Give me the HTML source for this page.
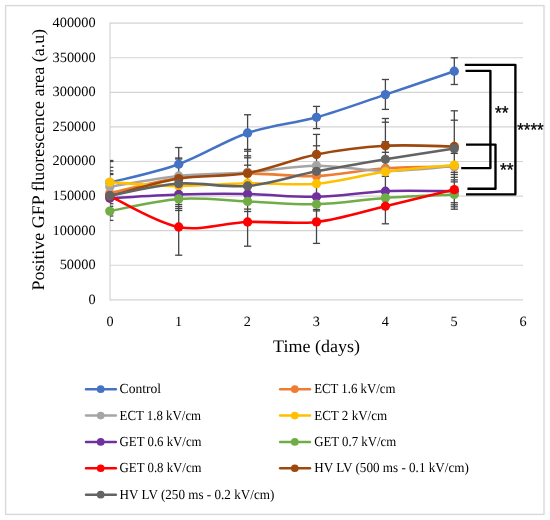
<!DOCTYPE html>
<html><head><meta charset="utf-8"><title>chart</title><style>html,body{margin:0;padding:0;background:#fff;width:550px;height:520px;overflow:hidden}</style></head><body>
<svg width="550" height="520" viewBox="0 0 550 520" style="display:block;position:absolute;left:0;top:0" font-family="'Liberation Serif', serif" text-rendering="geometricPrecision">
<rect x="0" y="0" width="550" height="520" fill="#fff"/>
<rect x="5.6" y="5.6" width="538.4" height="508.8" fill="none" stroke="#d9d9d9" stroke-width="1.4"/>
<line x1="110" y1="299.80" x2="523" y2="299.80" stroke="#d4d4d4" stroke-width="1.2"/>
<line x1="110" y1="265.23" x2="523" y2="265.23" stroke="#d4d4d4" stroke-width="1.2"/>
<line x1="110" y1="230.65" x2="523" y2="230.65" stroke="#d4d4d4" stroke-width="1.2"/>
<line x1="110" y1="196.07" x2="523" y2="196.07" stroke="#d4d4d4" stroke-width="1.2"/>
<line x1="110" y1="161.50" x2="523" y2="161.50" stroke="#d4d4d4" stroke-width="1.2"/>
<line x1="110" y1="126.93" x2="523" y2="126.93" stroke="#d4d4d4" stroke-width="1.2"/>
<line x1="110" y1="92.35" x2="523" y2="92.35" stroke="#d4d4d4" stroke-width="1.2"/>
<line x1="110" y1="57.77" x2="523" y2="57.77" stroke="#d4d4d4" stroke-width="1.2"/>
<line x1="110" y1="23.20" x2="523" y2="23.20" stroke="#d4d4d4" stroke-width="1.2"/>
<line x1="110" y1="22.60" x2="110" y2="300.40" stroke="#d4d4d4" stroke-width="1.2"/>
<text x="95.6" y="303.70" font-size="14.2" text-anchor="end" textLength="7.18" lengthAdjust="spacingAndGlyphs" fill="#000">0</text>
<text x="95.6" y="269.12" font-size="14.2" text-anchor="end" textLength="35.90" lengthAdjust="spacingAndGlyphs" fill="#000">50000</text>
<text x="95.6" y="234.55" font-size="14.2" text-anchor="end" textLength="43.08" lengthAdjust="spacingAndGlyphs" fill="#000">100000</text>
<text x="95.6" y="199.97" font-size="14.2" text-anchor="end" textLength="43.08" lengthAdjust="spacingAndGlyphs" fill="#000">150000</text>
<text x="95.6" y="165.40" font-size="14.2" text-anchor="end" textLength="43.08" lengthAdjust="spacingAndGlyphs" fill="#000">200000</text>
<text x="95.6" y="130.83" font-size="14.2" text-anchor="end" textLength="43.08" lengthAdjust="spacingAndGlyphs" fill="#000">250000</text>
<text x="95.6" y="96.25" font-size="14.2" text-anchor="end" textLength="43.08" lengthAdjust="spacingAndGlyphs" fill="#000">300000</text>
<text x="95.6" y="61.67" font-size="14.2" text-anchor="end" textLength="43.08" lengthAdjust="spacingAndGlyphs" fill="#000">350000</text>
<text x="95.6" y="27.10" font-size="14.2" text-anchor="end" textLength="43.08" lengthAdjust="spacingAndGlyphs" fill="#000">400000</text>
<text x="110.00" y="325.5" font-size="14.2" text-anchor="middle" fill="#000">0</text>
<text x="178.50" y="325.5" font-size="14.2" text-anchor="middle" fill="#000">1</text>
<text x="247.40" y="325.5" font-size="14.2" text-anchor="middle" fill="#000">2</text>
<text x="316.30" y="325.5" font-size="14.2" text-anchor="middle" fill="#000">3</text>
<text x="385.20" y="325.5" font-size="14.2" text-anchor="middle" fill="#000">4</text>
<text x="454.10" y="325.5" font-size="14.2" text-anchor="middle" fill="#000">5</text>
<text x="523.00" y="325.5" font-size="14.2" text-anchor="middle" fill="#000">6</text>
<text x="316.5" y="351.8" font-size="17.7" text-anchor="middle" textLength="86.8" lengthAdjust="spacingAndGlyphs" fill="#000">Time (days)</text>
<text transform="translate(43.8,290.5) rotate(-90)" x="0" y="0" font-size="17.7" textLength="261.6" lengthAdjust="spacingAndGlyphs" fill="#000">Positive GFP fluorescence area (a.u)</text>
<clipPath id="pc"><rect x="110" y="0" width="440" height="520"/></clipPath>
<g clip-path="url(#pc)" stroke="#454545" stroke-width="1.3" fill="none">
<path d="M109.80,160.60 V220.40"/>
<path d="M106.20,160.50 H113.40"/>
<path d="M106.20,161.50 H113.40"/>
<path d="M106.20,167.30 H113.40"/>
<path d="M106.20,170.90 H113.40"/>
<path d="M106.20,173.60 H113.40"/>
<path d="M106.20,174.50 H113.40"/>
<path d="M106.20,203.70 H113.40"/>
<path d="M106.20,206.30 H113.40"/>
<path d="M106.20,209.00 H113.40"/>
<path d="M106.20,216.00 H113.40"/>
<path d="M106.20,220.40 H113.40"/>
<path d="M178.70,147.50 V255.20"/>
<path d="M175.10,147.50 H182.30"/>
<path d="M175.10,158.00 H182.30"/>
<path d="M175.10,159.00 H182.30"/>
<path d="M175.10,204.50 H182.30"/>
<path d="M175.10,206.50 H182.30"/>
<path d="M175.10,208.50 H182.30"/>
<path d="M175.10,210.50 H182.30"/>
<path d="M175.10,255.20 H182.30"/>
<path d="M247.60,114.75 V246.20"/>
<path d="M244.00,114.75 H251.20"/>
<path d="M244.00,149.40 H251.20"/>
<path d="M244.00,151.20 H251.20"/>
<path d="M244.00,155.80 H251.20"/>
<path d="M244.00,157.80 H251.20"/>
<path d="M244.00,165.20 H251.20"/>
<path d="M244.00,209.10 H251.20"/>
<path d="M244.00,211.50 H251.20"/>
<path d="M244.00,246.20 H251.20"/>
<path d="M316.50,106.40 V128.60"/>
<path d="M316.50,134.40 V243.40"/>
<path d="M312.90,106.40 H320.10"/>
<path d="M312.90,128.60 H320.10"/>
<path d="M312.90,134.40 H320.10"/>
<path d="M312.90,145.80 H320.10"/>
<path d="M312.90,209.50 H320.10"/>
<path d="M312.90,210.90 H320.10"/>
<path d="M312.90,243.40 H320.10"/>
<path d="M385.40,79.50 V109.40"/>
<path d="M385.40,118.50 V223.80"/>
<path d="M381.80,79.50 H389.00"/>
<path d="M381.80,109.40 H389.00"/>
<path d="M381.80,118.50 H389.00"/>
<path d="M381.80,122.20 H389.00"/>
<path d="M381.80,141.80 H389.00"/>
<path d="M381.80,152.30 H389.00"/>
<path d="M381.80,176.30 H389.00"/>
<path d="M381.80,223.80 H389.00"/>
<path d="M454.30,57.80 V84.50"/>
<path d="M454.30,110.80 V209.20"/>
<path d="M450.70,57.80 H457.90"/>
<path d="M450.70,84.50 H457.90"/>
<path d="M450.70,110.80 H457.90"/>
<path d="M450.70,120.20 H457.90"/>
<path d="M450.70,153.40 H457.90"/>
<path d="M450.70,172.30 H457.90"/>
<path d="M450.70,174.50 H457.90"/>
<path d="M450.70,177.30 H457.90"/>
<path d="M450.70,179.90 H457.90"/>
<path d="M450.70,181.90 H457.90"/>
<path d="M450.70,202.70 H457.90"/>
<path d="M450.70,204.80 H457.90"/>
<path d="M450.70,206.80 H457.90"/>
<path d="M450.70,209.20 H457.90"/>
</g>
<path d="M109.80,182.60 C121.28,179.53 155.73,172.47 178.70,164.20 C201.67,155.93 224.63,140.82 247.60,133.00 C270.57,125.18 293.53,123.70 316.50,117.30 C339.47,110.90 362.43,102.28 385.40,94.60 C408.37,86.92 442.82,75.10 454.30,71.20" fill="none" stroke="#4472C4" stroke-width="2.55" stroke-linecap="round" stroke-linejoin="round"/>
<circle cx="109.80" cy="182.60" r="4.65" fill="#4472C4"/>
<circle cx="178.70" cy="164.20" r="4.65" fill="#4472C4"/>
<circle cx="247.60" cy="133.00" r="4.65" fill="#4472C4"/>
<circle cx="316.50" cy="117.30" r="4.65" fill="#4472C4"/>
<circle cx="385.40" cy="94.60" r="4.65" fill="#4472C4"/>
<circle cx="454.30" cy="71.20" r="4.65" fill="#4472C4"/>
<path d="M109.80,193.30 C121.28,190.75 155.73,181.28 178.70,178.00 C201.67,174.72 224.63,173.93 247.60,173.60 C270.57,173.27 293.53,176.90 316.50,176.00 C339.47,175.10 362.43,169.77 385.40,168.20 C408.37,166.63 442.82,166.87 454.30,166.60" fill="none" stroke="#ED7D31" stroke-width="2.55" stroke-linecap="round" stroke-linejoin="round"/>
<circle cx="109.80" cy="193.30" r="4.65" fill="#ED7D31"/>
<circle cx="178.70" cy="178.00" r="4.65" fill="#ED7D31"/>
<circle cx="247.60" cy="173.60" r="4.65" fill="#ED7D31"/>
<circle cx="316.50" cy="176.00" r="4.65" fill="#ED7D31"/>
<circle cx="385.40" cy="168.20" r="4.65" fill="#ED7D31"/>
<circle cx="454.30" cy="166.60" r="4.65" fill="#ED7D31"/>
<path d="M109.80,186.80 C121.28,185.00 155.73,178.40 178.70,176.00 C201.67,173.60 224.63,174.12 247.60,172.40 C270.57,170.68 293.53,165.93 316.50,165.70 C339.47,165.47 362.43,170.95 385.40,171.00 C408.37,171.05 442.82,166.83 454.30,166.00" fill="none" stroke="#A5A5A5" stroke-width="2.55" stroke-linecap="round" stroke-linejoin="round"/>
<circle cx="109.80" cy="186.80" r="4.65" fill="#A5A5A5"/>
<circle cx="178.70" cy="176.00" r="4.65" fill="#A5A5A5"/>
<circle cx="247.60" cy="172.40" r="4.65" fill="#A5A5A5"/>
<circle cx="316.50" cy="165.70" r="4.65" fill="#A5A5A5"/>
<circle cx="385.40" cy="171.00" r="4.65" fill="#A5A5A5"/>
<circle cx="454.30" cy="166.00" r="4.65" fill="#A5A5A5"/>
<path d="M109.80,182.20 C121.28,182.83 155.73,185.83 178.70,186.00 C201.67,186.17 224.63,183.58 247.60,183.20 C270.57,182.82 293.53,185.60 316.50,183.70 C339.47,181.80 362.43,174.90 385.40,171.80 C408.37,168.70 442.82,166.22 454.30,165.10" fill="none" stroke="#FFC000" stroke-width="2.55" stroke-linecap="round" stroke-linejoin="round"/>
<circle cx="109.80" cy="182.20" r="4.65" fill="#FFC000"/>
<circle cx="178.70" cy="186.00" r="4.65" fill="#FFC000"/>
<circle cx="247.60" cy="183.20" r="4.65" fill="#FFC000"/>
<circle cx="316.50" cy="183.70" r="4.65" fill="#FFC000"/>
<circle cx="385.40" cy="171.80" r="4.65" fill="#FFC000"/>
<circle cx="454.30" cy="165.10" r="4.65" fill="#FFC000"/>
<path d="M109.80,198.30 C121.28,197.67 155.73,195.22 178.70,194.50 C201.67,193.78 224.63,193.62 247.60,194.00 C270.57,194.38 293.53,197.27 316.50,196.80 C339.47,196.33 362.43,192.12 385.40,191.20 C408.37,190.28 442.82,191.28 454.30,191.30" fill="none" stroke="#7030A0" stroke-width="2.55" stroke-linecap="round" stroke-linejoin="round"/>
<circle cx="109.80" cy="198.30" r="4.65" fill="#7030A0"/>
<circle cx="178.70" cy="194.50" r="4.65" fill="#7030A0"/>
<circle cx="247.60" cy="194.00" r="4.65" fill="#7030A0"/>
<circle cx="316.50" cy="196.80" r="4.65" fill="#7030A0"/>
<circle cx="385.40" cy="191.20" r="4.65" fill="#7030A0"/>
<circle cx="454.30" cy="191.30" r="4.65" fill="#7030A0"/>
<path d="M109.80,211.10 C121.28,209.07 155.73,200.52 178.70,198.90 C201.67,197.28 224.63,200.52 247.60,201.40 C270.57,202.28 293.53,204.78 316.50,204.20 C339.47,203.62 362.43,199.53 385.40,197.90 C408.37,196.27 442.82,194.98 454.30,194.40" fill="none" stroke="#70AD47" stroke-width="2.55" stroke-linecap="round" stroke-linejoin="round"/>
<circle cx="109.80" cy="211.10" r="4.65" fill="#70AD47"/>
<circle cx="178.70" cy="198.90" r="4.65" fill="#70AD47"/>
<circle cx="247.60" cy="201.40" r="4.65" fill="#70AD47"/>
<circle cx="316.50" cy="204.20" r="4.65" fill="#70AD47"/>
<circle cx="385.40" cy="197.90" r="4.65" fill="#70AD47"/>
<circle cx="454.30" cy="194.40" r="4.65" fill="#70AD47"/>
<path d="M109.80,196.00 C121.28,201.17 155.73,222.67 178.70,227.00 C201.67,231.33 224.63,222.85 247.60,222.00 C270.57,221.15 293.53,224.53 316.50,221.90 C339.47,219.27 362.43,211.58 385.40,206.20 C408.37,200.82 442.82,192.37 454.30,189.60" fill="none" stroke="#FF0000" stroke-width="2.55" stroke-linecap="round" stroke-linejoin="round"/>
<circle cx="109.80" cy="196.00" r="4.65" fill="#FF0000"/>
<circle cx="178.70" cy="227.00" r="4.65" fill="#FF0000"/>
<circle cx="247.60" cy="222.00" r="4.65" fill="#FF0000"/>
<circle cx="316.50" cy="221.90" r="4.65" fill="#FF0000"/>
<circle cx="385.40" cy="206.20" r="4.65" fill="#FF0000"/>
<circle cx="454.30" cy="189.60" r="4.65" fill="#FF0000"/>
<path d="M109.80,196.00 C121.28,193.10 155.73,182.42 178.70,178.60 C201.67,174.78 224.63,177.12 247.60,173.10 C270.57,169.08 293.53,159.05 316.50,154.50 C339.47,149.95 362.43,147.13 385.40,145.80 C408.37,144.47 442.82,146.38 454.30,146.50" fill="none" stroke="#9E480E" stroke-width="2.55" stroke-linecap="round" stroke-linejoin="round"/>
<circle cx="109.80" cy="196.00" r="4.65" fill="#9E480E"/>
<circle cx="178.70" cy="178.60" r="4.65" fill="#9E480E"/>
<circle cx="247.60" cy="173.10" r="4.65" fill="#9E480E"/>
<circle cx="316.50" cy="154.50" r="4.65" fill="#9E480E"/>
<circle cx="385.40" cy="145.80" r="4.65" fill="#9E480E"/>
<circle cx="454.30" cy="146.50" r="4.65" fill="#9E480E"/>
<path d="M109.80,195.80 C121.28,193.77 155.73,185.23 178.70,183.60 C201.67,181.97 224.63,188.05 247.60,186.00 C270.57,183.95 293.53,175.75 316.50,171.30 C339.47,166.85 362.43,163.08 385.40,159.30 C408.37,155.52 442.82,150.38 454.30,148.60" fill="none" stroke="#636363" stroke-width="2.55" stroke-linecap="round" stroke-linejoin="round"/>
<circle cx="109.80" cy="195.80" r="4.65" fill="#636363"/>
<circle cx="178.70" cy="183.60" r="4.65" fill="#636363"/>
<circle cx="247.60" cy="186.00" r="4.65" fill="#636363"/>
<circle cx="316.50" cy="171.30" r="4.65" fill="#636363"/>
<circle cx="385.40" cy="159.30" r="4.65" fill="#636363"/>
<circle cx="454.30" cy="148.60" r="4.65" fill="#636363"/>
<g fill="none" stroke="#000" stroke-width="2.35" stroke-linejoin="round">
<path d="M464.8,64.8 H515.4 V194.3 H466"/>
<path d="M465.5,70.9 H490.4 V168.1 H461.2"/>
<path d="M466,144.6 H495.5 V188.7 H467.4"/>
</g>
<text x="495.0" y="118.5" font-family="'Liberation Sans', sans-serif" font-size="18.5" stroke="#000" stroke-width="0.3" textLength="13.6" lengthAdjust="spacingAndGlyphs">**</text>
<text x="517.2" y="135.5" font-family="'Liberation Sans', sans-serif" font-size="18.5" stroke="#000" stroke-width="0.3" textLength="26.5" lengthAdjust="spacingAndGlyphs">****</text>
<text x="499.9" y="176.0" font-family="'Liberation Sans', sans-serif" font-size="18.5" stroke="#000" stroke-width="0.3" textLength="13.6" lengthAdjust="spacingAndGlyphs">**</text>
<line x1="86.00" y1="389.15" x2="115.90" y2="389.15" stroke="#4472C4" stroke-width="2.45" stroke-linecap="round"/>
<circle cx="100.70" cy="389.15" r="3.85" fill="#4472C4"/>
<text x="119.60" y="393.30" font-size="13.8" textLength="41.50" lengthAdjust="spacingAndGlyphs" fill="#000">Control</text>
<line x1="280.10" y1="389.15" x2="310.00" y2="389.15" stroke="#ED7D31" stroke-width="2.45" stroke-linecap="round"/>
<circle cx="294.80" cy="389.15" r="3.85" fill="#ED7D31"/>
<text x="314.20" y="393.30" font-size="13.8" textLength="81.30" lengthAdjust="spacingAndGlyphs" fill="#000">ECT 1.6 kV/cm</text>
<line x1="86.00" y1="415.55" x2="115.90" y2="415.55" stroke="#A5A5A5" stroke-width="2.45" stroke-linecap="round"/>
<circle cx="100.70" cy="415.55" r="3.85" fill="#A5A5A5"/>
<text x="119.60" y="419.70" font-size="13.8" textLength="81.50" lengthAdjust="spacingAndGlyphs" fill="#000">ECT 1.8 kV/cm</text>
<line x1="280.10" y1="415.55" x2="310.00" y2="415.55" stroke="#FFC000" stroke-width="2.45" stroke-linecap="round"/>
<circle cx="294.80" cy="415.55" r="3.85" fill="#FFC000"/>
<text x="314.20" y="419.70" font-size="13.8" textLength="73.00" lengthAdjust="spacingAndGlyphs" fill="#000">ECT 2 kV/cm</text>
<line x1="86.00" y1="441.95" x2="115.90" y2="441.95" stroke="#7030A0" stroke-width="2.45" stroke-linecap="round"/>
<circle cx="100.70" cy="441.95" r="3.85" fill="#7030A0"/>
<text x="119.60" y="446.10" font-size="13.8" textLength="82.00" lengthAdjust="spacingAndGlyphs" fill="#000">GET 0.6 kV/cm</text>
<line x1="280.10" y1="441.95" x2="310.00" y2="441.95" stroke="#70AD47" stroke-width="2.45" stroke-linecap="round"/>
<circle cx="294.80" cy="441.95" r="3.85" fill="#70AD47"/>
<text x="314.20" y="446.10" font-size="13.8" textLength="82.00" lengthAdjust="spacingAndGlyphs" fill="#000">GET 0.7 kV/cm</text>
<line x1="86.00" y1="468.25" x2="115.90" y2="468.25" stroke="#FF0000" stroke-width="2.45" stroke-linecap="round"/>
<circle cx="100.70" cy="468.25" r="3.85" fill="#FF0000"/>
<text x="119.60" y="472.40" font-size="13.8" textLength="82.00" lengthAdjust="spacingAndGlyphs" fill="#000">GET 0.8 kV/cm</text>
<line x1="280.10" y1="468.25" x2="310.00" y2="468.25" stroke="#9E480E" stroke-width="2.45" stroke-linecap="round"/>
<circle cx="294.80" cy="468.25" r="3.85" fill="#9E480E"/>
<text x="314.20" y="472.40" font-size="13.8" textLength="154.60" lengthAdjust="spacingAndGlyphs" fill="#000">HV LV (500 ms - 0.1 kV/cm)</text>
<line x1="86.00" y1="494.65" x2="115.90" y2="494.65" stroke="#636363" stroke-width="2.45" stroke-linecap="round"/>
<circle cx="100.70" cy="494.65" r="3.85" fill="#636363"/>
<text x="119.60" y="498.80" font-size="13.8" textLength="154.70" lengthAdjust="spacingAndGlyphs" fill="#000">HV LV (250 ms - 0.2 kV/cm)</text>
</svg>
</body></html>
